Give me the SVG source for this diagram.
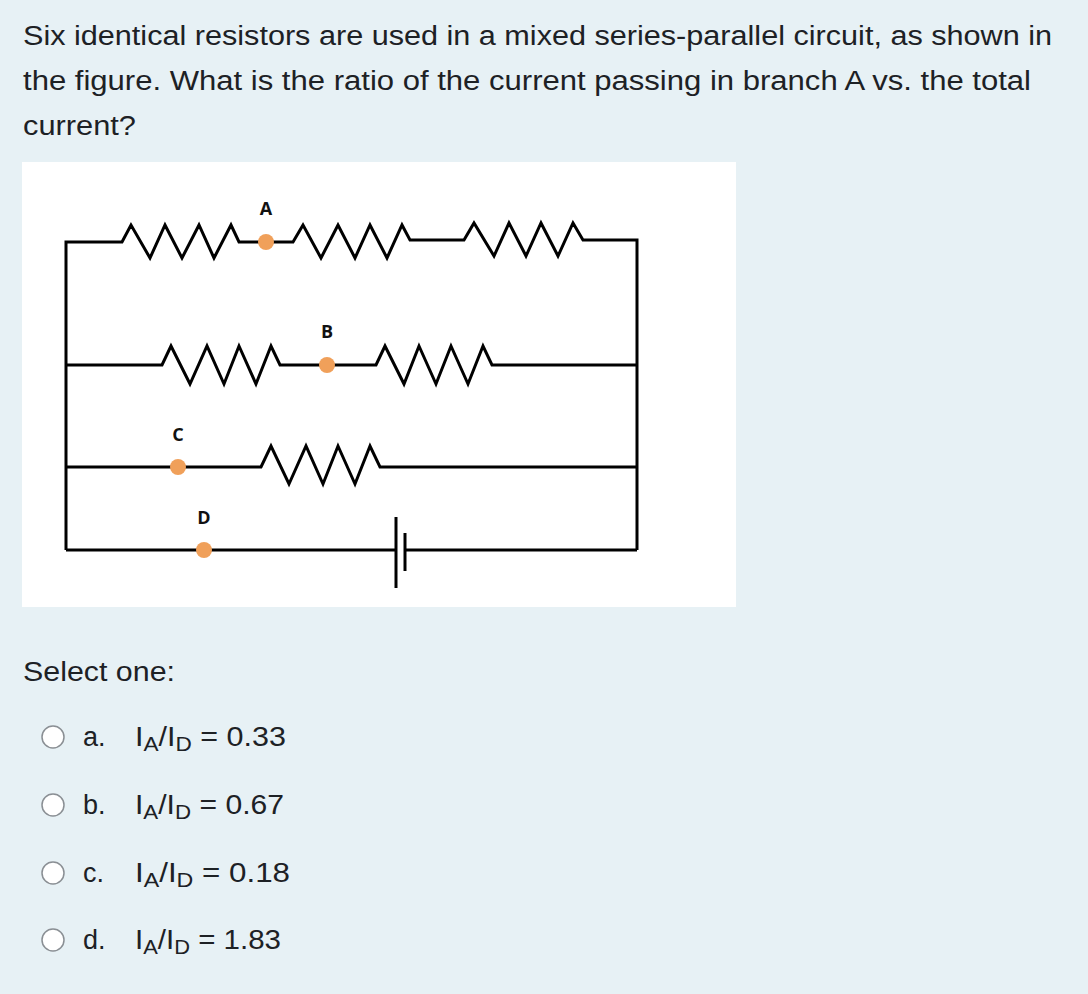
<svg xmlns="http://www.w3.org/2000/svg" width="1088" height="994" viewBox="0 0 1088 994">
<style>
.t{font-family:"Liberation Sans",Arial,sans-serif;font-size:27px;fill:#1d2125}
.s{font-size:20px}
.w{fill:none;stroke:#000;stroke-width:3;stroke-linejoin:miter}
.lbl{font-family:"Open Sans","DejaVu Sans",sans-serif;font-weight:bold;font-size:18px;fill:#111;text-anchor:middle}
.dot{fill:#f0a05a}
.r{fill:#fff;stroke:#8a8f94;stroke-width:1.5}
</style>
<rect width="1088" height="994" fill="#e7f1f5"/>
<text class="t" x="23" y="45" textLength="1029" lengthAdjust="spacingAndGlyphs">Six identical resistors are used in a mixed series-parallel circuit, as shown in</text>
<text class="t" x="23" y="90" textLength="1008" lengthAdjust="spacingAndGlyphs">the figure. What is the ratio of the current passing in branch A vs. the total</text>
<text class="t" x="23" y="135" textLength="113" lengthAdjust="spacingAndGlyphs">current?</text>
<rect x="22" y="162" width="714" height="445" fill="#fff"/>
<g id="connectors">
<polyline class="w" points="66,550 66,242 122,242 131,225 150,258 165,225 182,258 199,225 214,258 231,225 239,242 293,242 303,225 321,258 338,225 355,258 370,225 387,258 402,225 410,240 464,240 474,223 494,256 509,223 526,256 541,223 558,256 573,223 583,240 637,240 637,550"/>
<polyline class="w" points="66,365 162,365 171,346 190,384 207,346 224,384 239,346 256,384 271,346 280,365 376,365 385,346 404,384 419,346 436,384 451,346 468,384 483,346 492,365 637,365"/>
<polyline class="w" points="66,467 261,467 271,446 289,484 306,446 323,484 338,446 355,484 370,446 380,467 637,467"/>
<polyline class="w" points="66,550 396,550"/>
<polyline class="w" points="405,550 637,550"/>
<line class="w" x1="396" y1="517" x2="396" y2="588"/>
<line class="w" x1="405" y1="533" x2="405" y2="571"/>
</g>
<g id="A"><circle class="dot" cx="266" cy="242" r="8"/><text class="lbl" x="266" y="215">A</text></g>
<g id="B"><circle class="dot" cx="327" cy="365" r="8"/><text class="lbl" x="327" y="338">B</text></g>
<g id="C"><circle class="dot" cx="178" cy="467" r="8"/><text class="lbl" x="178" y="441">C</text></g>
<g id="D"><circle class="dot" cx="204" cy="550" r="8"/><text class="lbl" x="204" y="524">D</text></g>
<text class="t" x="23" y="681" textLength="152" lengthAdjust="spacingAndGlyphs">Select one:</text>
<g id="options">
<circle class="r" cx="53" cy="737" r="11"/>
<text class="t" x="83" y="746">a.</text>
<text class="t" x="135" y="746" textLength="151" lengthAdjust="spacingAndGlyphs">I<tspan class="s" dy="5">A</tspan><tspan dy="-5">/I</tspan><tspan class="s" dy="5">D</tspan><tspan dy="-5"> = 0.33</tspan></text>
<circle class="r" cx="53" cy="805" r="11"/>
<text class="t" x="83" y="814">b.</text>
<text class="t" x="135" y="814" textLength="149" lengthAdjust="spacingAndGlyphs">I<tspan class="s" dy="5">A</tspan><tspan dy="-5">/I</tspan><tspan class="s" dy="5">D</tspan><tspan dy="-5"> = 0.67</tspan></text>
<circle class="r" cx="53" cy="873" r="11"/>
<text class="t" x="83" y="882">c.</text>
<text class="t" x="135" y="882" textLength="155" lengthAdjust="spacingAndGlyphs">I<tspan class="s" dy="5">A</tspan><tspan dy="-5">/I</tspan><tspan class="s" dy="5">D</tspan><tspan dy="-5"> =  0.18</tspan></text>
<circle class="r" cx="53" cy="940" r="11"/>
<text class="t" x="83" y="949">d.</text>
<text class="t" x="135" y="949" textLength="146" lengthAdjust="spacingAndGlyphs">I<tspan class="s" dy="5">A</tspan><tspan dy="-5">/I</tspan><tspan class="s" dy="5">D</tspan><tspan dy="-5"> = 1.83</tspan></text>
</g>
</svg>
